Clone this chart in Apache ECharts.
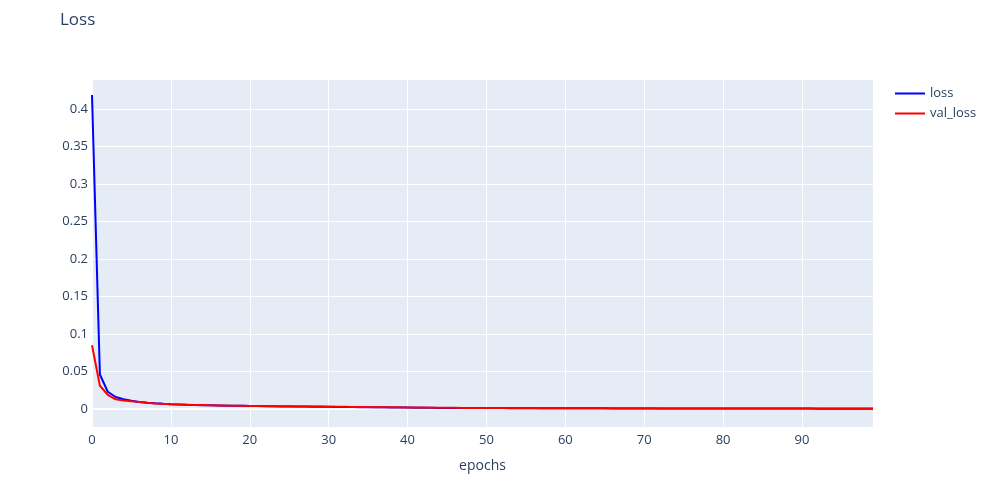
<!DOCTYPE html>
<html>
<head>
<meta charset="utf-8">
<script src="https://cdn.jsdelivr.net/npm/echarts@6/dist/echarts.min.js"></script>
<style>
  html, body { margin: 0; padding: 0; background: #fff; }
  #chart { width: 1000px; height: 483px; }
</style>
</head>
<body>
<div id="chart"></div>
<script>
// epochs 0..99
const lossValues = [
  0.419, 0.046, 0.023, 0.016, 0.013, 0.011, 0.0095, 0.0083, 0.0076, 0.0070,
  0.0065, 0.0061, 0.0057, 0.0054, 0.0051, 0.0049, 0.0047, 0.0045, 0.0043, 0.0042,
  0.0040, 0.0039, 0.0037, 0.0036, 0.0035, 0.0034, 0.0033, 0.0032, 0.0031, 0.0030,
  0.0029, 0.0028, 0.0027, 0.0026, 0.0025, 0.0024, 0.0023, 0.0022, 0.0021, 0.0020,
  0.0019, 0.0018, 0.0017, 0.0016, 0.0015, 0.0015, 0.0014, 0.0014, 0.0013, 0.0013,
  0.0012, 0.0012, 0.0012, 0.0011, 0.0011, 0.0011, 0.0010, 0.0010, 0.0010, 0.0010,
  0.0009, 0.0009, 0.0009, 0.0009, 0.0009, 0.0009, 0.0008, 0.0008, 0.0008, 0.0008,
  0.0008, 0.0008, 0.0008, 0.0007, 0.0007, 0.0007, 0.0007, 0.0007, 0.0007, 0.0007,
  0.0007, 0.0007, 0.0006, 0.0006, 0.0006, 0.0006, 0.0006, 0.0006, 0.0006, 0.0006,
  0.0006, 0.0006, 0.0005, 0.0005, 0.0005, 0.0005, 0.0005, 0.0005, 0.0005, 0.0005
]
const valLossValues = [
  0.085, 0.031, 0.019, 0.013, 0.0115, 0.0105, 0.0092, 0.0082, 0.0075, 0.0069,
  0.0064, 0.0060, 0.0057, 0.0054, 0.0052, 0.0050, 0.0048, 0.0046, 0.0044, 0.0043,
  0.0041, 0.0040, 0.0039, 0.0038, 0.0037, 0.0036, 0.0035, 0.0034, 0.0033, 0.0032,
  0.0031, 0.0030, 0.0029, 0.0028, 0.0027, 0.0026, 0.0025, 0.0024, 0.0023, 0.0022,
  0.0021, 0.0020, 0.0019, 0.0018, 0.0017, 0.0017, 0.0016, 0.0015, 0.0015, 0.0014,
  0.0014, 0.0013, 0.0013, 0.0013, 0.0012, 0.0012, 0.0012, 0.0011, 0.0011, 0.0011,
  0.0011, 0.0010, 0.0010, 0.0010, 0.0010, 0.0010, 0.0009, 0.0009, 0.0009, 0.0009,
  0.0009, 0.0009, 0.0008, 0.0008, 0.0008, 0.0008, 0.0008, 0.0008, 0.0008, 0.0008,
  0.0007, 0.0007, 0.0007, 0.0007, 0.0007, 0.0007, 0.0007, 0.0007, 0.0007, 0.0006,
  0.0006, 0.0006, 0.0006, 0.0006, 0.0006, 0.0006, 0.0006, 0.0006, 0.0006, 0.0006
]
const xTicks = [0, 10, 20, 30, 40, 50, 60, 70, 80, 90]
const yTicks = [0, 0.05, 0.1, 0.15, 0.2, 0.25, 0.3, 0.35, 0.4]

const textColor = '#2a3f5f'
const fontFamily = '"Open Sans", Verdana, Arial, sans-serif'

const toPairs = arr => arr.map((v, i) => [i, v])

var myChart = echarts.init(document.getElementById('chart'))
let option = {
  animation: false,
  backgroundColor: '#fff',
  textStyle: { fontFamily: fontFamily, color: textColor },
  title: {
    text: 'Loss',
    left: 55,
    top: 7,
    textStyle: { fontFamily: fontFamily, fontSize: 17, fontWeight: 'normal', color: textColor }
  },
  legend: {
    orient: 'vertical',
    left: 890,
    top: 82,
    icon: 'rect',
    itemWidth: 30,
    itemHeight: 2,
    itemGap: 7,
    textStyle: { fontFamily: fontFamily, fontSize: 13, color: textColor },
    data: ['loss', 'val_loss']
  },
  grid: {
    left: 92,
    right: 127,
    top: 80,
    bottom: 56,
    show: true,
    backgroundColor: '#E5ECF6',
    borderWidth: 0
  },
  xAxis: {
    type: 'value',
    min: 0,
    max: 99,
    name: 'epochs',
    nameLocation: 'middle',
    nameGap: 32,
    nameTextStyle: { fontFamily: fontFamily, fontSize: 14, color: textColor },
    axisLine: { show: false },
    axisTick: { show: false, customValues: xTicks },
    axisLabel: { customValues: xTicks, color: textColor, fontSize: 13, margin: 7 },
    splitLine: { show: true, lineStyle: { color: '#fff', width: 1 } }
  },
  yAxis: {
    type: 'value',
    min: -0.024,
    max: 0.439,
    axisLine: { show: false },
    axisTick: { show: false, customValues: yTicks },
    axisLabel: { customValues: yTicks, color: textColor, fontSize: 13, margin: 4 },
    splitLine: { show: true, lineStyle: { color: '#fff', width: 1 } }
  },
  series: [
    {
      name: 'loss',
      type: 'line',
      symbol: 'none',
      data: toPairs(lossValues),
      lineStyle: { color: '#0000ff', width: 2 },
      itemStyle: { color: '#0000ff' },
      markLine: {
        silent: true,
        symbol: 'none',
        label: { show: false },
        lineStyle: { color: '#fff', width: 2, type: 'solid' },
        data: [{ yAxis: 0 }],
        z: 1
      }
    },
    {
      name: 'val_loss',
      type: 'line',
      symbol: 'none',
      data: toPairs(valLossValues),
      lineStyle: { color: '#ff0000', width: 2 },
      itemStyle: { color: '#ff0000' }
    }
  ]
}
myChart.setOption(option)
</script>
</body>
</html>
